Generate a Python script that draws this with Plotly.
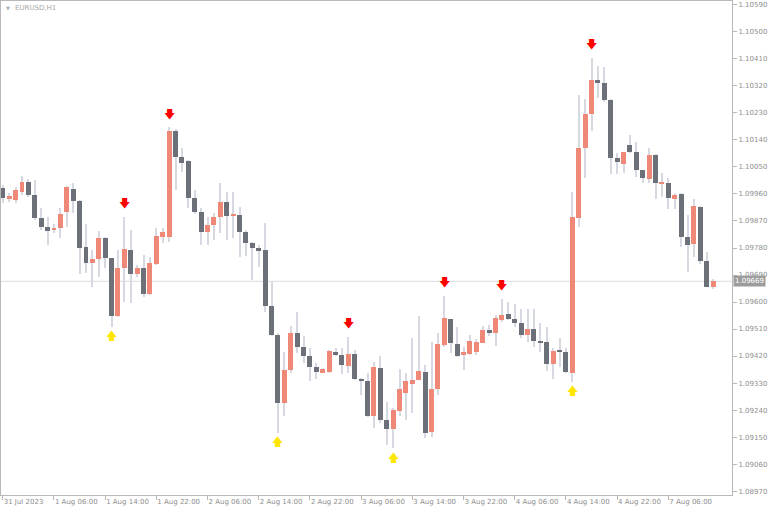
import plotly.graph_objects as go

# ---- data (EURUSD H1, candle index 0 = 31 Jul 2023 22:00) ----
opens = [1.09980,1.09943,1.09940,1.09967,1.10000,1.09957,1.09880,1.09850,1.09840,1.09845,
         1.09900,1.09978,1.09937,1.09782,1.09731,1.09743,1.09814,1.09746,1.09553,1.09712,
         1.09773,1.09692,1.09712,1.09626,1.09727,1.09816,1.09816,1.10171,1.10084,1.10070,
         1.09946,1.09899,1.09832,1.09856,1.09882,1.09934,1.09887,1.09890,1.09832,1.09796,
         1.09779,1.09773,1.09587,1.09490,1.09262,1.09373,1.09497,1.09449,1.09420,1.09384,
         1.09364,1.09368,1.09434,1.09423,1.09388,1.09427,1.09342,1.09337,1.09221,1.09381,
         1.09207,1.09176,1.09238,1.09298,1.09326,1.09340,1.09366,1.09166,1.09309,1.09457,
         1.09542,1.09459,1.09426,1.09427,1.09432,1.09464,1.09507,1.09497,1.09540,1.09560,
         1.09543,1.09531,1.09490,1.09509,1.09470,1.09466,1.09392,1.09440,1.09432,1.09364,
         1.09879,1.10112,1.10227,1.10340,1.10331,1.10273,1.10081,1.10060,1.10123,1.10101,
         1.10040,1.10011,1.10091,1.09995,1.09996,1.09943,1.09959,1.09816,1.09793,1.09917,
         1.09737,1.09650]
highs = [1.09990,1.09963,1.09983,1.10020,1.10010,1.10007,1.09913,1.09883,1.09860,1.09913,
         1.09985,1.09997,1.09940,1.09860,1.09773,1.09837,1.09818,1.09747,1.09773,1.09884,
         1.09840,1.09723,1.09757,1.09751,1.09847,1.09847,1.10182,1.10177,1.10113,1.10073,
         1.09973,1.09913,1.09884,1.09897,1.09998,1.09968,1.09968,1.09917,1.09840,1.09801,
         1.09790,1.09864,1.09671,1.09497,1.09434,1.09520,1.09568,1.09487,1.09447,1.09398,
         1.09379,1.09440,1.09446,1.09446,1.09484,1.09440,1.09346,1.09362,1.09401,1.09420,
         1.09268,1.09247,1.09376,1.09362,1.09479,1.09553,1.09390,1.09468,1.09496,1.09620,
         1.09542,1.09518,1.09451,1.09490,1.09478,1.09520,1.09523,1.09557,1.09609,1.09601,
         1.09593,1.09576,1.09576,1.09576,1.09531,1.09517,1.09447,1.09479,1.09446,1.09968,
         1.10290,1.10276,1.10412,1.10387,1.10384,1.10276,1.10098,1.10101,1.10157,1.10134,
         1.10040,1.10112,1.10093,1.10029,1.10014,1.09962,1.09962,1.09890,1.09942,1.09920,
         1.09768,1.09678]
lows = [1.09930,1.09933,1.09930,1.09957,1.09950,1.09873,1.09840,1.09790,1.09830,1.09813,
        1.09850,1.09897,1.09693,1.09697,1.09651,1.09684,1.09712,1.09518,1.09551,1.09601,
        1.09597,1.09684,1.09618,1.09623,1.09723,1.09797,1.09801,1.09973,1.10034,1.09913,
        1.09893,1.09790,1.09790,1.09807,1.09830,1.09807,1.09813,1.09751,1.09753,1.09673,
        1.09718,1.09568,1.09488,1.09164,1.09220,1.09363,1.09429,1.09397,1.09337,1.09343,
        1.09362,1.09362,1.09420,1.09360,1.09362,1.09340,1.09290,1.09218,1.09179,1.09196,
        1.09123,1.09112,1.09220,1.09207,1.09229,1.09340,1.09146,1.09151,1.09290,1.09451,
        1.09431,1.09418,1.09373,1.09423,1.09425,1.09462,1.09487,1.09453,1.09535,1.09540,
        1.09518,1.09479,1.09468,1.09451,1.09434,1.09371,1.09342,1.09382,1.09362,1.09334,
        1.09851,1.10014,1.10170,1.10279,1.10268,1.10026,1.10026,1.10029,1.10096,1.10018,
        1.09998,1.09996,1.09942,1.09950,1.09910,1.09910,1.09784,1.09700,1.09751,1.09728,
        1.09650,1.09645]
closes = [1.09947,1.09953,1.09973,1.10000,1.09957,1.09880,1.09850,1.09837,1.09847,1.09893,
          1.09982,1.09938,1.09781,1.09731,1.09743,1.09814,1.09746,1.09553,1.09714,1.09776,
          1.09692,1.09712,1.09626,1.09731,1.09820,1.09832,1.10171,1.10084,1.10064,1.09946,
          1.09899,1.09832,1.09856,1.09882,1.09934,1.09887,1.09890,1.09832,1.09796,1.09779,
          1.09773,1.09587,1.09490,1.09262,1.09373,1.09496,1.09449,1.09420,1.09384,1.09368,
          1.09376,1.09437,1.09423,1.09390,1.09427,1.09342,1.09337,1.09221,1.09382,1.09207,
          1.09176,1.09240,1.09309,1.09337,1.09340,1.09370,1.09162,1.09309,1.09459,1.09546,
          1.09462,1.09421,1.09432,1.09470,1.09468,1.09507,1.09496,1.09546,1.09557,1.09543,
          1.09531,1.09490,1.09509,1.09470,1.09466,1.09392,1.09438,1.09432,1.09368,1.09882,
          1.10112,1.10227,1.10340,1.10331,1.10273,1.10081,1.10066,1.10099,1.10101,1.10040,
          1.10014,1.10091,1.09996,1.09997,1.09946,1.09956,1.09816,1.09790,1.09921,1.09737,
          1.09650,1.09669]

down_arrow_idx = [19, 26, 54, 69, 78, 92]   # red sell arrows (above high)
up_arrow_idx = [17, 43, 61, 89]             # yellow buy arrows (below low)

tick_idx = [0, 8, 16, 24, 32, 40, 48, 56, 64, 72, 80, 88, 96, 104]
tick_text = ["31 Jul 2023", "1 Aug 06:00", "1 Aug 14:00", "1 Aug 22:00", "2 Aug 06:00",
             "2 Aug 14:00", "2 Aug 22:00", "3 Aug 06:00", "3 Aug 14:00", "3 Aug 22:00",
             "4 Aug 06:00", "4 Aug 14:00", "4 Aug 22:00", "7 Aug 06:00"]
price_ticks = [1.08970, 1.09060, 1.09150, 1.09240, 1.09330, 1.09420, 1.09510, 1.09600,
               1.09690, 1.09780, 1.09870, 1.09960, 1.10050, 1.10140, 1.10230, 1.10320,
               1.10410, 1.10500, 1.10590]
current_price = 1.09669
symbol_title = "EURUSD,H1"

# ---- styling ----
BULL = "#EF8877"
BEAR = "#6C7179"
WICK = "#D6D9E2"
TXT = "#8E8E8E"
FRAME = "#B8B8B8"
FONT = "DejaVu Sans"

n = len(opens)
xs = list(range(n))
body_base = [min(o, c) for o, c in zip(opens, closes)]
body_h = [max(abs(c - o), 0.00003) for o, c in zip(opens, closes)]
body_col = [BULL if c >= o else BEAR for o, c in zip(opens, closes)]

fig = go.Figure()
fig.add_trace(go.Bar(x=xs, y=[h - l for h, l in zip(highs, lows)], base=lows,
                     width=0.16, marker=dict(color=WICK, line=dict(width=0)),
                     hoverinfo="skip", showlegend=False))
fig.add_trace(go.Bar(x=xs, y=body_h, base=body_base, width=0.76,
                     marker=dict(color=body_col, line=dict(width=0)),
                     showlegend=False))

fig.add_trace(go.Scatter(x=down_arrow_idx, y=[highs[i] + 0.00042 for i in down_arrow_idx],
                         mode="text", text=["🡇"] * len(down_arrow_idx),
                         textfont=dict(family=FONT, size=11, color="#FF0000"),
                         showlegend=False, hoverinfo="skip"))
fig.add_trace(go.Scatter(x=up_arrow_idx, y=[lows[i] - 0.00036 for i in up_arrow_idx],
                         mode="text", text=["🡅"] * len(up_arrow_idx),
                         textfont=dict(family=FONT, size=11, color="#FFE600"),
                         showlegend=False, hoverinfo="skip"))

fig.add_shape(type="line", xref="paper", x0=0, x1=1, yref="y", y0=current_price, y1=current_price,
              line=dict(color="#DCDCE2", width=1), layer="below")

fig.add_annotation(xref="paper", x=1.0, xanchor="left", yref="y", y=current_price,
                   text=f"{current_price:.5f}", showarrow=False,
                   font=dict(family=FONT, size=7, color="white"),
                   bgcolor="#9C9C9C", borderpad=1, xshift=1)
fig.add_annotation(xref="paper", yref="paper", x=0.004, y=0.995, xanchor="left", yanchor="top",
                   text="▼", showarrow=False, font=dict(family=FONT, size=5, color="#A8A8A8"))
fig.add_annotation(xref="paper", yref="paper", x=0.016, y=0.997, xanchor="left", yanchor="top",
                   text=symbol_title, showarrow=False, font=dict(family=FONT, size=7, color="#A8A8A8"))

fig.update_layout(
    width=768, height=512,
    margin=dict(l=1, r=36, t=1, b=17),
    paper_bgcolor="white", plot_bgcolor="white",
    barmode="overlay", bargap=0,
    showlegend=False,
    xaxis=dict(range=[-0.27, 113.95], tickvals=tick_idx, ticktext=tick_text, tickangle=0,
               ticks="outside", ticklen=4, tickcolor=FRAME, showgrid=False, zeroline=False,
               showline=True, linecolor=FRAME, linewidth=1, mirror=True,
               ticklabelposition="outside right",
               tickfont=dict(family=FONT, size=7, color=TXT), fixedrange=True),
    yaxis=dict(range=[1.08957, 1.10603], side="right", tickvals=price_ticks,
               ticktext=[f"{v:.5f}" for v in price_ticks],
               ticks="outside", ticklen=4, tickcolor=FRAME, showgrid=False, zeroline=False,
               showline=True, linecolor=FRAME, linewidth=1, mirror=True,
               tickfont=dict(family=FONT, size=7, color=TXT), fixedrange=True),
)

fig.write_html("out.html", config={"displayModeBar": False},
               post_script="document.body.style.margin='0';document.body.style.padding='0';")
